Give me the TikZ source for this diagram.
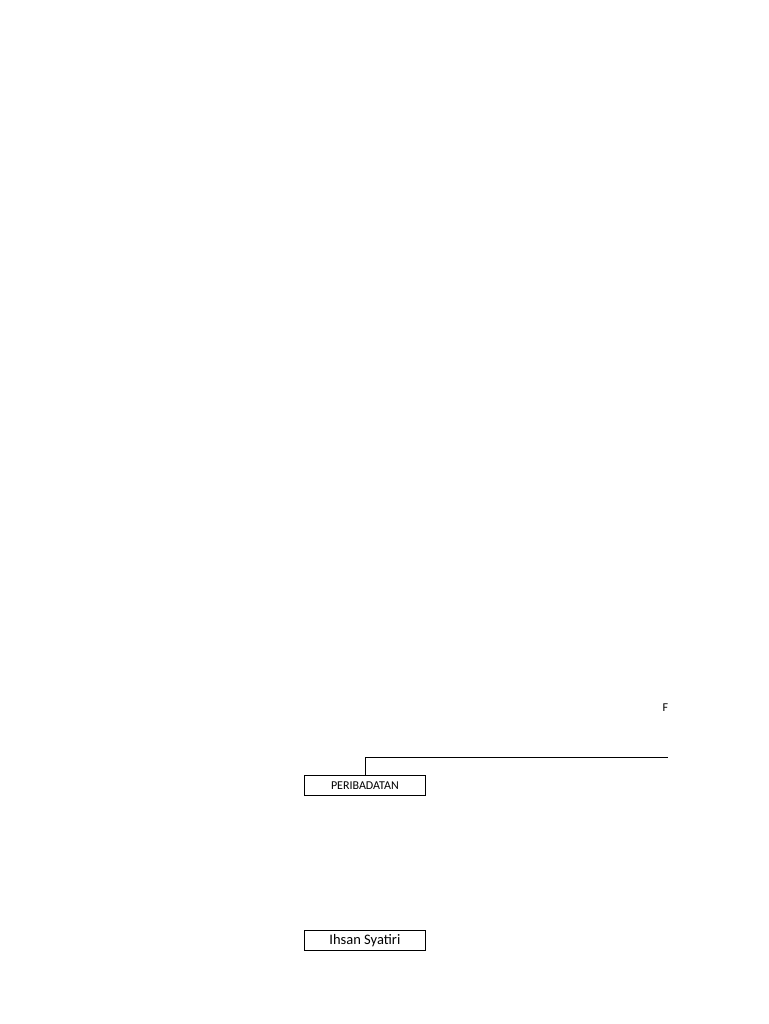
\documentclass[tikz,border=0pt]{standalone}
\usepackage{fontspec}
\setmainfont{Carlito}
\begin{document}
\begin{tikzpicture}[x=1pt,y=-1pt,
  unitbox/.style={draw=black,line width=0.8pt,minimum width=121pt,minimum height=20pt,inner sep=0pt,anchor=north west},
  conn/.style={draw=black,line width=0.9pt}]
\useasboundingbox[fill=white] (0,0) rectangle (768,1024);
\node[unitbox,font=\fontsize{12}{13}\selectfont] (perib) at (304,775) {PERIBADATAN};
\node[unitbox,font=\fontsize{14.5}{15}\selectfont] (ihsan) at (304,930) {Ihsan Syatiri};
\node[anchor=base west,inner sep=0pt,font=\fontsize{12}{13}\selectfont] (ftext) at (662.5,711) {F};
\coordinate (lineend) at (668,757);
\draw[conn] (perib.north -| 365,0) |- (lineend);
\end{tikzpicture}
\end{document}
